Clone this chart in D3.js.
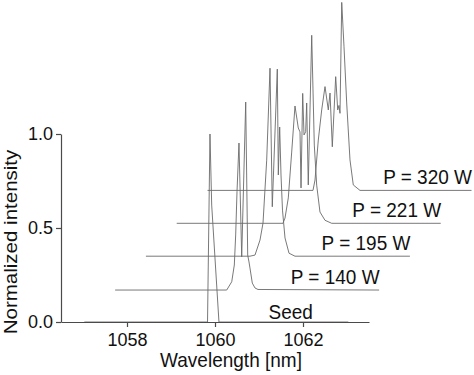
<!DOCTYPE html>
<html>
<head>
<meta charset="utf-8">
<script src="https://cdn.jsdelivr.net/npm/d3@7"></script>
<style>
  body { margin: 0; background: #fff; }
  text { font-family: "Liberation Sans", Arial, sans-serif; fill: #111; }
</style>
</head>
<body>
<div id="wrap"></div>
<script>
// spectra, wavelength [nm] and normalized intensity
var seedNm  = [1057.03, 1059.83, 1059.886, 1059.925, 1060.09, 1063.03];
var seedInt = [0, 0, 1.0, 0.622, 0, 0];

var wl140  = [1057.03, 1059.566, 1059.68, 1059.739, 1059.77, 1059.8, 1059.845, 1059.907, 1059.998, 1060.043, 1060.073, 1060.095, 1060.148, 1060.209, 1060.277, 1063.03];
var int140 = [0, 0, 0.044, 0.133, 0.293, 0.523, 0.782, 0.177, 1.0, 0.186, 0.149, 0.117, 0.037, 0.011, 0.003, 0];

var wl195  = [1057.03, 1059.395, 1059.509, 1059.623, 1059.691, 1059.775, 1059.85, 1059.902, 1060.016, 1060.039, 1060.07, 1060.1, 1060.134, 1060.191, 1060.282, 1060.418, 1063.03];
var int195 = [0, 0, 0.006, 0.086, 0.176, 0.511, 1.0, 0.263, 0.995, 0.432, 0.687, 0.432, 0.245, 0.097, 0.016, 0, 0];

var wl221  = [1057.03, 1059.445, 1059.491, 1059.566, 1059.643, 1059.718, 1059.793, 1059.832, 1059.855, 1059.893, 1059.923, 1059.961, 1059.984, 1060.02, 1060.098, 1060.157, 1060.211, 1060.286, 1060.4, 1060.552, 1063.03];
var int221 = [0, 0, 0.028, 0.135, 0.379, 0.624, 0.507, 0.486, 0.188, 0.691, 0.47, 0.487, 0.64, 0.204, 1.0, 0.416, 0.203, 0.06, 0.016, 0, 0];

var wl320  = [1057.03, 1059.427, 1059.473, 1059.548, 1059.625, 1059.7, 1059.775, 1059.814, 1059.866, 1059.943, 1059.989, 1060.018, 1060.041, 1060.08, 1060.132, 1060.193, 1060.268, 1060.343, 1060.495, 1063.03];
var int320 = [0, 0, 0.055, 0.268, 0.428, 0.552, 0.428, 0.518, 0.232, 0.605, 0.428, 0.452, 0.41, 1.0, 0.764, 0.465, 0.162, 0.029, 0, 0];

var traceNames = ['Seed', 'P = 140 W', 'P = 195 W', 'P = 221 W', 'P = 320 W'];
var offsetNm  = [0, 0.7, 1.4, 2.1, 2.8];     // waterfall shift along x
var offsetInt = [0, 0.17, 0.35, 0.525, 0.70]; // waterfall shift along y

var xTicks = [1058, 1060, 1062];
var yTicks = [0, 0.5, 1.0];

var traces = [
  [seedNm, seedInt], [wl140, int140], [wl195, int195], [wl221, int221], [wl320, int320]
];

var width = 474, height = 375;

var svg = d3.select('#wrap').append('svg')
  .attr('width', width)
  .attr('height', height);

var x = d3.scaleLinear().domain([1056.5, 1063.5]).range([61, 369]),
    y = d3.scaleLinear().domain([0, 1]).range([322, 134]);

// traces
traces.forEach(function(t, k) {
  var pts = t[0].map(function(w, i) { return [w + offsetNm[k], t[1][i] + offsetInt[k]]; });
  svg.append('path')
    .datum(pts)
    .attr('fill', 'none')
    .attr('stroke', '#6a6a6a')
    .attr('stroke-width', 0.9)
    .attr('d', d3.line()
      .x(function(d) { return x(d[0]); })
      .y(function(d) { return y(d[1]); }));
});

// axes
var xAxis = svg.append('g')
  .attr('transform', 'translate(0,' + y(0) + ')')
  .call(d3.axisBottom(x).tickValues(xTicks).tickSize(5).tickSizeOuter(0).tickPadding(6).tickFormat(d3.format('d')));
var yAxis = svg.append('g')
  .attr('transform', 'translate(' + x(1056.5) + ',0)')
  .call(d3.axisLeft(y).tickValues(yTicks).tickSize(5).tickSizeOuter(0).tickPadding(3).tickFormat(d3.format('.1f')));

[xAxis, yAxis].forEach(function(a) {
  a.selectAll('path, line').attr('stroke', '#4a4a4a').attr('stroke-width', 1.2);
  a.selectAll('text')
    .attr('font-family', '"Liberation Sans", Arial, sans-serif')
    .attr('font-size', 18)
    .attr('fill', '#111');
});

// trace labels
function stretched(px, py, str, anchor) {
  svg.append('text')
    .attr('transform', 'translate(' + px + ',' + py + ') scale(1,1.1)')
    .attr('text-anchor', anchor)
    .attr('font-size', 19)
    .text(str);
}

traces.forEach(function(t, k) {
  if (k == 0) {
    stretched(x(1061.72), y(0) - 3, traceNames[k], 'middle');
  } else {
    var last = t[0][t[0].length - 1];
    stretched(x(last + offsetNm[k]) + 0.5, y(offsetInt[k]) - 6.5, traceNames[k], 'end');
  }
});

// axis titles
stretched(231, 367, 'Wavelength [nm]', 'middle');
svg.append('text')
  .attr('transform', 'translate(17,242) rotate(-90) scale(1.08,1)')
  .attr('text-anchor', 'middle')
  .attr('font-size', 19)
  .text('Normalized intensity');
</script>
</body>
</html>
